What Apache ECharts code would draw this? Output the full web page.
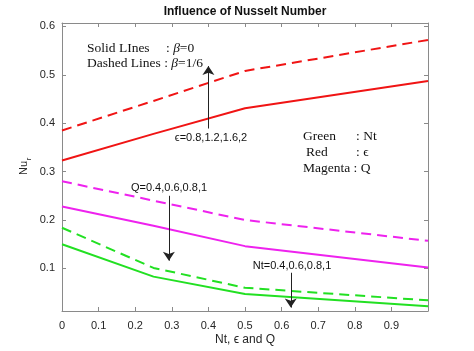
<!DOCTYPE html>
<html>
<head>
<meta charset="utf-8">
<title>Influence of Nusselt Number</title>
<script src="https://cdn.jsdelivr.net/npm/echarts@6/dist/echarts.min.js"></script>
<style>
  html, body { margin: 0; padding: 0; background: #fff; }
  #chart { width: 474px; height: 351px; }
</style>
</head>
<body>
<div id="chart"></div>
<script>
// x positions (Nt, eps and Q scaled to 0..1)
var xValues = [0, 0.25, 0.5, 1];
// solid = beta 0, dashed = beta 1/6
var greenSolid = [0.150, 0.083, 0.047, 0.022];
var greenDashed = [0.184, 0.101, 0.060, 0.034];
var redSolid = [0.323, 0.378, 0.431, 0.487];
var redDashed = [0.385, 0.446, 0.508, 0.572];
var magentaSolid = [0.228, 0.188, 0.146, 0.102];
var magentaDashed = [0.280, 0.240, 0.200, 0.157];

var xTicks = [0, 0.1, 0.2, 0.3, 0.4, 0.5, 0.6, 0.7, 0.8, 0.9];
var yTicks = [0.1, 0.2, 0.3, 0.4, 0.5, 0.6];

// arrows: [x, yStart, yEnd]
var redArrow = [0.4, 0.389, 0.518];
var magentaArrow = [0.292, 0.250, 0.116];
var greenArrow = [0.625, 0.091, 0.019];

function pairs(ys) {
  var out = [];
  for (var i = 0; i < xValues.length; i++) {
    out.push([xValues[i], ys[i]]);
  }
  return out;
}

function arrowLine(a) {
  return [[{ coord: [a[0], a[1]] }, { coord: [a[0], a[2]] }]];
}

var axisColor = '#8a8a8a';
var labelColor = '#262626';
var sans = 'Liberation Sans, Arial, sans-serif';
var serif = 'Liberation Serif, Times New Roman, serif';

function makeSeries(name, ys, color, dashed, arrow) {
  var s = {
    name: name,
    type: 'line',
    data: pairs(ys),
    symbol: 'none',
    smooth: false,
    lineStyle: { color: color, width: 2, type: dashed ? [10, 6] : 'solid' },
    silent: true,
    z: 3
  };
  if (arrow) {
    s.markLine = {
      silent: true,
      symbol: ['none', 'arrow'],
      symbolSize: 9,
      label: { show: false },
      lineStyle: { color: '#222', width: 1, type: 'solid' },
      data: arrowLine(arrow)
    };
  }
  return s;
}

function note(x, y, text, font, size, align) {
  return {
    type: 'text', x: x, y: y,
    style: {
      text: text, fill: '#111', fontSize: size, fontFamily: font,
      textAlign: align || 'left', textVerticalAlign: 'middle',
      rich: { i: { fontStyle: 'italic', fontSize: size, fontFamily: font, fill: '#111' } }
    }
  };
}

var chart = echarts.init(document.getElementById('chart'));

var option = {
  animation: false,
  backgroundColor: '#fff',
  grid: { left: 62, right: 46, top: 23, bottom: 40, containLabel: false, outerBoundsMode: 'none' },
  xAxis: [
    {
      type: 'value', position: 'bottom', min: 0, max: 1,
      axisLine: { show: true, onZero: false, lineStyle: { color: axisColor, width: 1 } },
      axisTick: { show: true, inside: true, length: 4, customValues: xTicks, lineStyle: { color: axisColor } },
      axisLabel: {
        customValues: xTicks, margin: 9, color: labelColor, fontSize: 11, fontFamily: sans,
        formatter: function (v) { return String(Math.round(v * 10) / 10); }
      },
      splitLine: { show: false }
    },
    {
      type: 'value', position: 'top', min: 0, max: 1,
      axisLine: { show: true, onZero: false, lineStyle: { color: axisColor, width: 1 } },
      axisTick: { show: true, inside: true, length: 4, customValues: xTicks, lineStyle: { color: axisColor } },
      axisLabel: { show: false },
      splitLine: { show: false }
    }
  ],
  yAxis: [
    {
      type: 'value', position: 'left', min: 0.012, max: 0.607,
      axisLine: { show: true, onZero: false, lineStyle: { color: axisColor, width: 1 } },
      axisTick: { show: true, inside: true, length: 4, customValues: yTicks, lineStyle: { color: axisColor } },
      axisLabel: {
        customValues: yTicks, margin: 7, color: labelColor, fontSize: 11, fontFamily: sans,
        formatter: function (v) { return String(Math.round(v * 10) / 10); }
      },
      splitLine: { show: false }
    },
    {
      type: 'value', position: 'right', min: 0.012, max: 0.607,
      axisLine: { show: true, onZero: false, lineStyle: { color: axisColor, width: 1 } },
      axisTick: { show: true, inside: true, length: 4, customValues: yTicks, lineStyle: { color: axisColor } },
      axisLabel: { show: false },
      splitLine: { show: false }
    }
  ],
  series: [
    makeSeries('Red solid', redSolid, '#f01414', false, redArrow),
    makeSeries('Red dashed', redDashed, '#f01414', true),
    makeSeries('Magenta solid', magentaSolid, '#ee22ee', false, magentaArrow),
    makeSeries('Magenta dashed', magentaDashed, '#ee22ee', true),
    makeSeries('Green solid', greenSolid, '#22e022', false, greenArrow),
    makeSeries('Green dashed', greenDashed, '#22e022', true)
  ],
  graphic: [
    { type: 'text', x: 245, y: 12, style: { text: 'Influence of Nusselt Number', fill: '#111', fontSize: 12, fontWeight: 'bold', fontFamily: sans, textAlign: 'center', textVerticalAlign: 'middle' } },
    { type: 'text', x: 245, y: 340, style: { text: 'Nt, ϵ and Q', fill: labelColor, fontSize: 12, fontFamily: sans, textAlign: 'center', textVerticalAlign: 'middle' } },
    // y axis name Nu_r
    { type: 'text', x: 24, y: 168, rotation: Math.PI / 2, style: { text: 'Nu', fill: labelColor, fontSize: 11, fontFamily: sans, textAlign: 'center', textVerticalAlign: 'middle' } },
    { type: 'text', x: 29, y: 159, rotation: Math.PI / 2, style: { text: 'r', fill: labelColor, fontSize: 8, fontFamily: sans, textAlign: 'center', textVerticalAlign: 'middle' } },
    // beta notes
    note(87, 48, 'Solid LInes', serif, 13.5),
    note(166, 48, ': {i|β}=0', serif, 13.5),
    note(87, 63, 'Dashed Lines : {i|β}=1/6', serif, 13.5),
    // colour key
    note(303, 136, 'Green', serif, 13.5),
    note(356, 136, ': Nt', serif, 13.5),
    note(306, 152, 'Red', serif, 13.5),
    note(356, 152, ': ϵ', serif, 13.5),
    note(303, 168, 'Magenta : Q', serif, 13.5),
    // arrow labels
    note(211, 138, 'ϵ=0.8,1.2,1.6,2', sans, 11, 'center'),
    note(169, 188, 'Q=0.4,0.6,0.8,1', sans, 11, 'center'),
    note(292, 266, 'Nt=0.4,0.6,0.8,1', sans, 11, 'center')
  ]
};

chart.setOption(option);
</script>
</body>
</html>
